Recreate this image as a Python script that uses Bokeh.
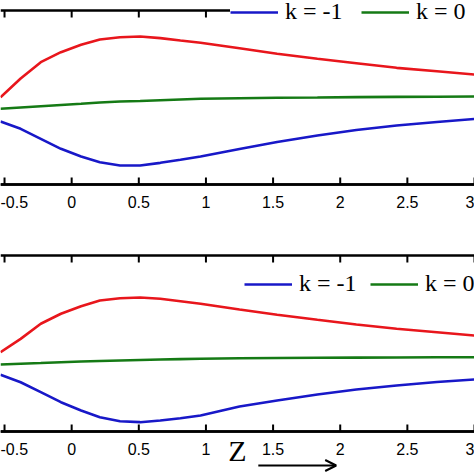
from bokeh.plotting import figure
from bokeh.models import (FixedTicker, Legend, LegendItem, Arrow, OpenHead,
                          Range1d)
from bokeh.layouts import column
from bokeh.embed import file_html
from bokeh.resources import INLINE

# ---- data ----
z = [-0.53, -0.38, -0.23, -0.08, 0.07, 0.21, 0.36, 0.51, 0.66, 0.81, 0.96,
     1.25, 1.53, 1.83, 2.12, 2.42, 2.72, 3.0]

top_red = [0.003, 0.218, 0.406, 0.521, 0.606, 0.667, 0.693, 0.701, 0.682, 0.655,
           0.629, 0.567, 0.502, 0.445, 0.394, 0.341, 0.302, 0.264]
top_green = [-0.130, -0.115, -0.100, -0.086, -0.072, -0.058, -0.046, -0.040, -0.031,
             -0.023, -0.015, -0.008, -0.003, 0.000, 0.004, 0.007, 0.009, 0.011]
top_blue = [-0.276, -0.360, -0.475, -0.590, -0.678, -0.744, -0.782, -0.782, -0.751,
            -0.716, -0.678, -0.592, -0.511, -0.437, -0.374, -0.322, -0.282, -0.247]

bot_red = [-0.099, 0.053, 0.224, 0.338, 0.424, 0.489, 0.515, 0.523, 0.508, 0.481,
           0.451, 0.386, 0.326, 0.269, 0.216, 0.167, 0.128, 0.091]
bot_green = [-0.239, -0.230, -0.222, -0.213, -0.205, -0.199, -0.193, -0.187, -0.182,
             -0.177, -0.173, -0.167, -0.164, -0.162, -0.160, -0.159, -0.157, -0.156]
bot_blue = [-0.356, -0.440, -0.553, -0.667, -0.761, -0.838, -0.883, -0.894, -0.875,
            -0.849, -0.818, -0.716, -0.648, -0.580, -0.523, -0.477, -0.438, -0.409]

x_ticks = [-0.5, 0, 0.5, 1, 1.5, 2, 2.5, 3]
tick_labels = {-0.5: "-0.5", 0: "0", 0.5: "0.5", 1: "1", 1.5: "1.5", 2: "2",
               2.5: "2.5", 3: "3"}
legend_labels = ["k = -1", "k = 0"]
x_label = "Z"
arrow_from, arrow_to = 1.39, 1.97   # direction arrow under the Z label

X0, X1 = -0.53, 3.0
Y0, Y1 = -1.0, 1.0

RED = "#e8161c"
BLUE = "#1818c8"
GREEN = "#157a15"

PAD_TOP, PAD_BOT = 10.0, 20.0   # px of frame kept above Y1 / below Y0


def make_panel(h, frame_px, reds, greens, blues, legend_loc, spacing):
    ppu = frame_px / (Y1 - Y0)
    bottom = h - frame_px - PAD_TOP - PAD_BOT
    p = figure(width=474, height=h, x_range=Range1d(X0, X1),
               y_range=Range1d(Y0 - PAD_BOT / ppu, Y1 + PAD_TOP / ppu),
               output_backend="svg", toolbar_location=None,
               y_axis_location=None,
               min_border_left=0, min_border_right=0,
               min_border_top=0, min_border_bottom=int(bottom))
    p.outline_line_color = None
    p.grid.visible = False
    ax = p.xaxis[0]
    ax.ticker = FixedTicker(ticks=x_ticks)
    ax.major_label_overrides = tick_labels
    ax.axis_line_color = None
    ax.major_tick_line_color = None
    ax.minor_tick_line_color = None
    ax.major_tick_in = 0
    ax.major_tick_out = 0
    ax.major_label_text_font = "Liberation Sans"
    ax.major_label_text_font_size = "16px"
    ax.major_label_text_color = "black"
    ax.major_label_standoff = -9

    # frame edges (top and bottom) with inward ticks
    half = 1.25 / ppu
    p.quad(left=[X0, X0], right=[X1, X1], bottom=[Y1 - half, Y0 - half],
           top=[Y1 + half, Y0 + half], fill_color="black", line_color=None)
    p.line([X0, X1], [Y0, Y0], line_color="black", line_width=2.5)
    tick_len = 7.0 / ppu
    n = len(x_ticks)
    p.segment(x0=x_ticks, y0=[Y1] * n, x1=x_ticks, y1=[Y1 - tick_len] * n,
              line_color="black", line_width=2)
    p.segment(x0=x_ticks, y0=[Y0] * n, x1=x_ticks, y1=[Y0 + tick_len] * n,
              line_color="black", line_width=2)

    r_red = p.line(z, reds, line_color=RED, line_width=2.6)
    r_green = p.line(z, greens, line_color=GREEN, line_width=2.6)
    r_blue = p.line(z, blues, line_color=BLUE, line_width=2.6)

    leg = Legend(items=[LegendItem(label=legend_labels[0], renderers=[r_blue]),
                        LegendItem(label=legend_labels[1], renderers=[r_green])],
                 orientation="horizontal", location=legend_loc,
                 label_text_font="Liberation Serif", label_text_font_size="24px",
                 label_text_color="black", label_width=60,
                 glyph_width=48, glyph_height=20, label_standoff=7,
                 spacing=spacing, padding=12, margin=0, border_line_color=None,
                 background_fill_color="white", background_fill_alpha=1.0)
    p.add_layout(leg, "center")
    return p, ax


p1, ax1 = make_panel(245, 174, top_red, top_green, top_blue, (230, 179), 16)
p2, ax2 = make_panel(229, 176, bot_red, bot_green, bot_blue, (244, 154), 11)

ax2.axis_label = x_label
ax2.axis_label_text_font = "Liberation Serif"
ax2.axis_label_text_font_size = "30px"
ax2.axis_label_text_font_style = "normal"
ax2.axis_label_text_color = "black"
ax2.axis_label_standoff = -24

# transparent strip laid over the bottom of panel 2 to hold the direction arrow
p3 = figure(width=474, height=24, x_range=p2.x_range, y_range=Range1d(0, 1),
            output_backend="svg", toolbar_location=None,
            x_axis_location=None, y_axis_location=None,
            min_border=0, margin=(-24, 0, 0, 0))
p3.outline_line_color = None
p3.grid.visible = False
p3.background_fill_alpha = 0
p3.border_fill_alpha = 0
p3.add_layout(Arrow(end=OpenHead(size=11, line_width=2, line_color="black"),
                    x_start=arrow_from, y_start=0.375, x_end=arrow_to, y_end=0.375,
                    line_width=1.8, line_color="black"))

layout = column(p1, p2, p3, spacing=0)
open("out.html", "w").write(file_html(layout, INLINE))
